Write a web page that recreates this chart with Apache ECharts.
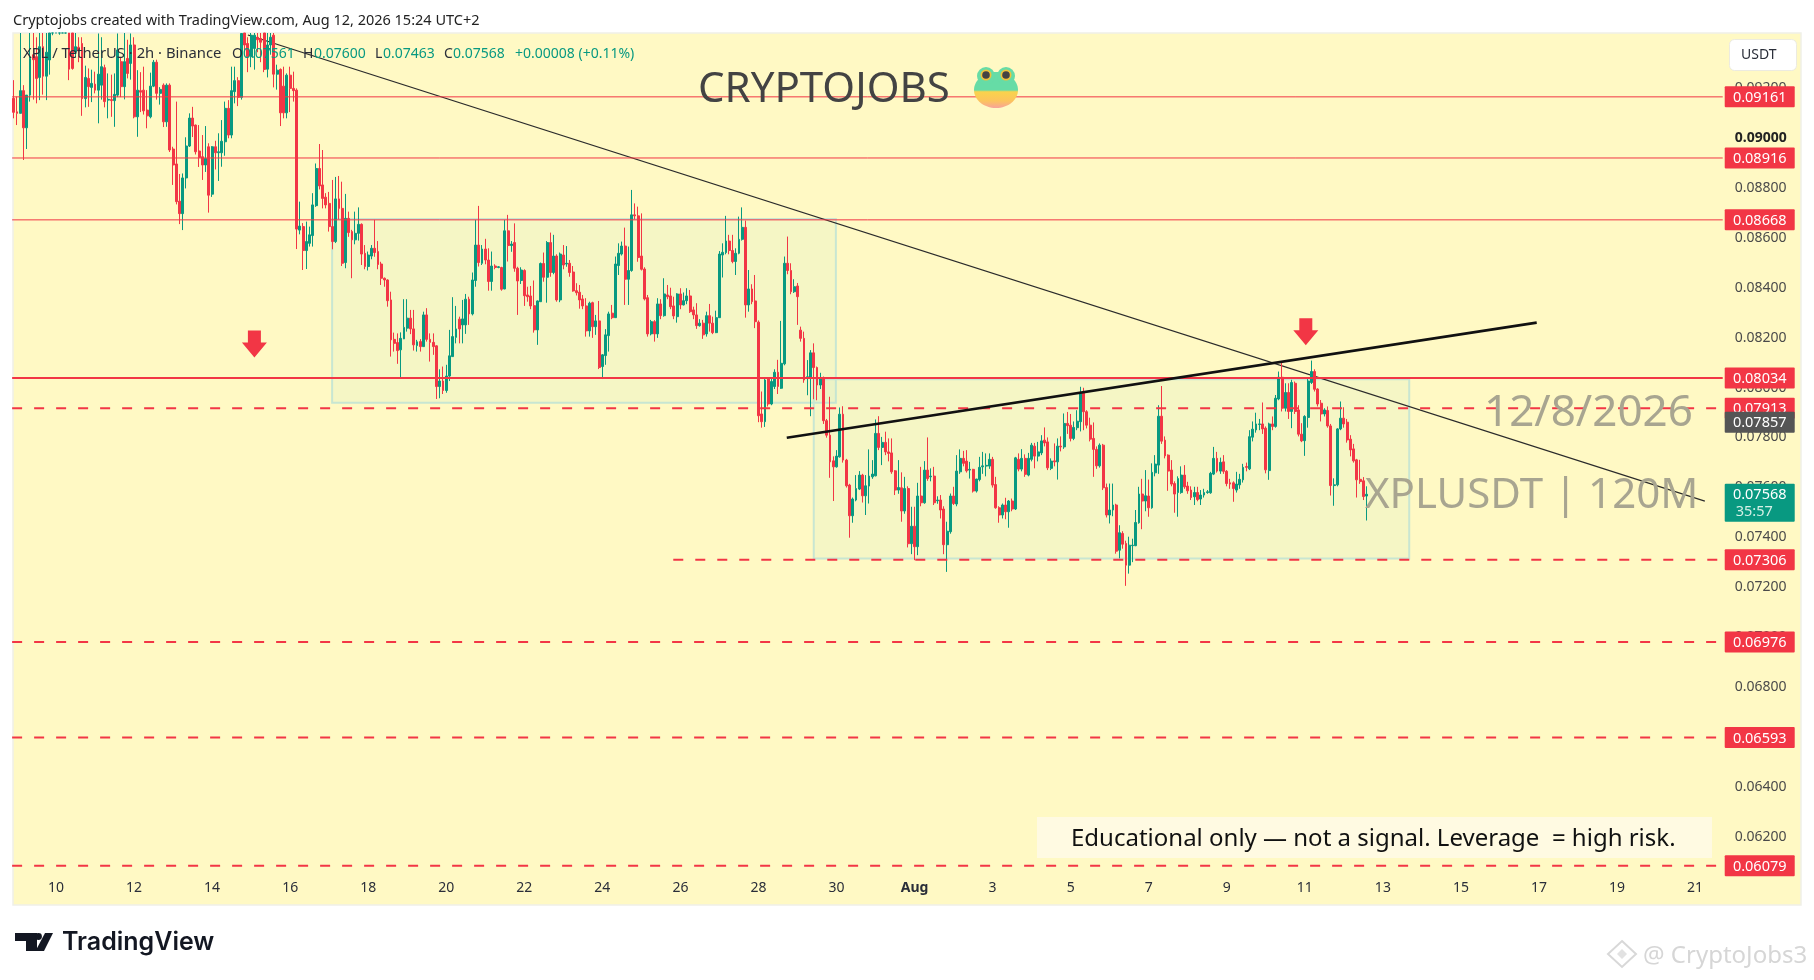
<!DOCTYPE html>
<html><head><meta charset="utf-8">
<style>html,body{margin:0;padding:0;background:#fff}#c{width:1814px;height:980px}</style>
<script src="https://cdn.jsdelivr.net/npm/echarts@6/dist/echarts.min.js"></script>
</head><body><div id="c"></div>
<script>
// 2h bars, [open, close, low, high] in 1e-5 USDT
const barsA=[[9155,9099,9075,9228],[9101,9095,9048,9162],[9095,9186,9095,9440],[9186,9037,8908,9208],[9037,9168,8952,9168],[9168,9315,9142,9420],[9330,9310,9150,9430],[9322,9235,9135,9400],[9239,9362,9148,9430],[9362,9244,9170,9440],[9244,9340,9148,9430],[9309,9420,9250,9450],[9425,9450,9408,9470],[9450,9470,9420,9500],[9470,9440,9410,9500],[9440,9470,9420,9490],[9470,9440,9415,9500],[9440,9272,9228,9480],[9420,9275,9270,9450],[9340,9362,9320,9420],[9360,9345,9300,9400],[9375,9154,9085,9400],[9154,9239,9119,9286],[9235,9202,9121,9275],[9199,9215,9140,9270],[9212,9188,9175,9262],[9188,9252,9055,9415],[9208,9282,9150,9400],[9278,9142,9119,9290],[9148,9151,9075,9255],[9150,9146,9081,9250],[9146,9171,9041,9255],[9168,9349,9160,9415],[9302,9202,9160,9320],[9202,9302,9151,9420],[9315,9255,9235,9390],[9295,9369,9230,9415],[9369,9081,9075,9400],[9081,9188,9001,9268],[9186,9180,9100,9260],[9188,9105,9090,9282],[9108,9085,9035,9188],[9081,9204,9075,9258],[9204,9300,9200,9309],[9300,9175,9150,9310],[9175,9191,9130,9200],[9208,9061,9040,9215],[9061,9208,9041,9215],[9208,8948,8940,9215],[8952,8888,8808,8961],[8892,8741,8730,9142],[8743,8693,8651,8852],[8693,8836,8627,8854],[8836,8964,8794,8999],[8964,9076,8960,9095],[9076,9044,9000,9121],[9048,8941,8930,9050],[8944,8918,8880,9048],[8921,8888,8828,9008],[8888,8914,8860,9044],[8961,8767,8697,8975],[8771,8961,8760,8964],[8961,8937,8870,8985],[8937,8941,8824,9015],[8937,8983,8881,9068],[8981,9115,8925,9142],[9115,9008,8995,9148],[9008,9186,8995,9282],[9182,9226,9135,9282],[9226,9159,9124,9240],[9159,9415,9150,9460],[9425,9369,9340,9460],[9375,9322,9260,9400],[9322,9408,9280,9440],[9355,9408,9270,9430],[9400,9390,9340,9425],[9395,9380,9300,9430],[9430,9271,9260,9450],[9272,9369,9239,9430],[9369,9400,9330,9440],[9408,9252,9199,9440],[9252,9268,9190,9290],[9271,9097,9044,9275],[9204,9097,9075,9282],[9097,9248,9075,9255],[9248,9195,9100,9282],[9195,9186,9142,9262],[9188,8631,8551,9195]];
const barsB=[[8627,8643,8610,8741],[8641,8545,8467,8655],[8545,8581,8471,8661],[8574,8608,8561,8641],[8605,8728,8561,8775],[8725,8874,8720,8894],[8874,8804,8790,8972],[8808,8754,8714,8948],[8759,8728,8714,8775],[8734,8641,8621,8780],[8641,8581,8550,8828],[8581,8752,8575,8840],[8752,8714,8670,8844],[8714,8494,8483,8821],[8497,8674,8474,8772],[8674,8617,8600,8701],[8621,8588,8434,8628],[8588,8614,8570,8701],[8614,8650,8585,8718],[8650,8531,8487,8654],[8534,8481,8470,8567],[8481,8527,8465,8541],[8523,8554,8510,8567],[8554,8537,8520,8668],[8541,8489,8470,8583],[8491,8434,8407,8500],[8434,8427,8400,8437],[8427,8344,8320,8430],[8347,8187,8120,8380],[8189,8173,8140,8216],[8176,8144,8091,8213],[8147,8193,8037,8217],[8191,8237,8190,8350],[8234,8274,8220,8350],[8274,8231,8210,8307],[8231,8167,8144,8307],[8164,8179,8140,8187],[8180,8160,8140,8190],[8160,8287,8160,8300],[8287,8189,8180,8314],[8189,8177,8100,8213],[8177,8160,8127,8213],[8163,8000,7950,8165],[8000,8022,7953,8069],[8022,7984,7970,8080],[7984,8042,7975,8087],[8042,8123,8022,8227],[8120,8200,8120,8358],[8197,8231,8173,8323],[8270,8231,8173,8280],[8247,8271,8173,8347],[8247,8350,8211,8371],[8350,8291,8247,8360],[8291,8427,8285,8457],[8425,8567,8400,8668],[8567,8497,8481,8724],[8494,8551,8487,8567],[8551,8507,8490,8592],[8507,8421,8384,8554],[8421,8483,8384,8541]];
const barsC=[[8483,8477,8470,8490],[8477,8480,8474,8483],[8477,8390,8384,8480],[8391,8624,8390,8668],[8624,8565,8501,8688],[8565,8571,8540,8583],[8577,8474,8460,8654],[8474,8423,8287,8480],[8425,8467,8411,8478],[8465,8364,8323,8470],[8367,8360,8340,8400],[8363,8323,8310,8403],[8324,8227,8216,8425],[8227,8343,8167,8345],[8340,8493,8340,8497],[8493,8438,8420,8537],[8438,8577,8336,8583],[8577,8457,8440,8617],[8457,8523,8450,8608],[8523,8347,8340,8530],[8347,8531,8338,8537],[8527,8487,8470,8567],[8491,8494,8480,8563],[8494,8457,8440,8507],[8459,8383,8380,8483],[8384,8376,8365,8414],[8378,8347,8312,8407],[8351,8323,8310,8367],[8323,8223,8200,8354],[8223,8334,8200,8340],[8336,8240,8195,8340],[8240,8263,8207,8287],[8263,8076,8070,8343],[8080,8127,8030,8130],[8124,8207,8087,8230],[8204,8291,8140,8300],[8294,8276,8270,8327],[8276,8491,8276,8521],[8485,8534,8447,8574],[8531,8563,8525,8581],[8563,8430,8327,8637],[8430,8465,8327,8561],[8465,8688,8460,8788],[8688,8684,8670,8734],[8684,8517,8500,8721],[8523,8470,8465,8694],[8471,8351,8345,8478],[8356,8211,8200,8367],[8211,8260,8205,8267],[8260,8211,8180,8266],[8211,8331,8195,8354],[8331,8284,8270,8350],[8284,8371,8280,8434],[8367,8360,8350,8407],[8363,8320,8310,8396],[8323,8283,8270,8360],[8280,8371,8256,8374],[8371,8327,8310,8394],[8327,8344,8325,8377],[8344,8363,8330,8394],[8363,8300,8295,8387],[8307,8287,8270,8320],[8287,8244,8231,8334],[8244,8254,8240,8270],[8254,8207,8191,8267],[8211,8284,8200,8300],[8284,8254,8220,8331],[8254,8216,8210,8280],[8216,8276,8214,8304],[8276,8531,8276,8543],[8527,8538,8437,8574],[8537,8583,8530,8684],[8583,8545,8530,8608],[8545,8501,8494,8608],[8501,8534,8447,8554],[8534,8590,8530,8681],[8590,8638,8585,8718],[8638,8327,8276,8665],[8327,8391,8300,8467],[8391,8340,8330,8410],[8343,8260,8234,8447]];
const barsD=[[8258,7883,7857,8265],[7890,7859,7835,7980],[7859,8026,7838,8030],[8030,7930,7920,8037],[7930,8020,7925,8030],[8000,8057,7990,8069],[8057,8000,7970,8107],[7993,8093,7990,8263],[8091,8494,8085,8521],[8494,8465,8450,8601],[8465,8380,8370,8494],[8380,8400,8375,8430],[8403,8360,8247,8415],[8226,8193,8180,8240],[8193,8026,8015,8220],[8032,8039,7965,8106],[8032,8135,7881,8146],[8135,8076,7949,8173],[8076,8006,7945,8080],[8006,8035,7990,8055],[8032,7863,7850,8040],[7863,7805,7795,7870],[7805,7698,7634,7959],[7702,7678,7541,7720],[7678,7721,7675,7745],[7718,7889,7715,7916],[7889,7705,7695,7921],[7705,7602,7595,7710],[7605,7482,7394,7610],[7482,7549,7454,7555],[7545,7591,7540,7645],[7589,7645,7585,7661],[7645,7562,7535,7650],[7562,7602,7485,7645],[7601,7641,7531,7748],[7638,7649,7630,7705],[7642,7812,7640,7868],[7812,7756,7745,7881],[7756,7776,7685,7798],[7776,7738,7725,7819],[7738,7732,7700,7792],[7734,7658,7650,7792],[7662,7585,7565,7665],[7585,7595,7570,7705],[7594,7501,7458,7656],[7501,7591,7490,7638],[7591,7370,7355,7600],[7370,7440,7328,7518],[7440,7358,7304,7518]];
const barsE=[[7358,7561,7324,7614],[7561,7534,7520,7678],[7534,7665,7530,7701],[7665,7631,7622,7796],[7638,7641,7620,7672],[7641,7534,7525,7678],[7542,7545,7530,7560],[7545,7505,7471,7565],[7509,7366,7328,7520],[7366,7420,7257,7458],[7418,7561,7410,7571],[7561,7531,7525,7598],[7529,7661,7520,7725],[7658,7712,7650,7748],[7712,7692,7680,7742],[7701,7662,7655,7745],[7665,7668,7631,7698],[7668,7581,7575,7670],[7581,7629,7575,7630],[7627,7676,7620,7718],[7678,7682,7650,7738],[7681,7684,7640,7732],[7681,7708,7670,7732],[7708,7605,7595,7718],[7607,7514,7510,7638],[7514,7485,7454,7520],[7485,7525,7471,7531],[7525,7498,7468,7554],[7498,7541,7434,7545],[7541,7509,7500,7551],[7509,7714,7505,7718],[7708,7669,7660,7732],[7669,7712,7660,7749],[7712,7648,7638,7728],[7645,7712,7640,7734],[7708,7765,7700,7774],[7761,7721,7672,7774],[7721,7738,7700,7778],[7734,7782,7725,7805],[7785,7774,7760,7836],[7778,7674,7665,7796],[7672,7701,7665,7712],[7702,7698,7680,7772],[7698,7761,7627,7792],[7761,7758,7740,7800],[7758,7852,7750,7892],[7852,7843,7810,7898],[7845,7792,7780,7890],[7792,7836,7785,7860],[7835,7861,7825,7905],[7859,7976,7820,7999],[7976,7899,7825,7995],[7899,7845,7832,7905],[7845,7789,7780,7875],[7792,7748,7638,7856],[7748,7682,7670,7760],[7682,7765,7675,7772],[7765,7594,7585,7770],[7595,7485,7475,7611],[7485,7505,7451,7611],[7505,7525,7480,7611],[7525,7340,7330,7530],[7344,7414,7311,7444],[7411,7368,7350,7420],[7371,7284,7201,7382],[7284,7364,7250,7398],[7362,7364,7296,7390],[7362,7455,7360,7505],[7454,7569,7450,7598],[7569,7541,7428,7630],[7541,7562,7500,7665],[7561,7514,7478,7627],[7514,7656,7510,7692],[7654,7689,7640,7725],[7685,7881,7650,7925],[7881,7781,7770,8002],[7785,7722,7712,7800],[7725,7661,7582,7728],[7665,7609,7600,7705],[7611,7569,7494,7620],[7575,7631,7478,7640],[7575,7645,7570,7680],[7645,7598,7590,7685],[7601,7582,7570,7618],[7585,7555,7545,7600],[7558,7575,7525,7598],[7575,7547,7540,7598],[7549,7565,7525,7585],[7565,7575,7555,7590],[7575,7578,7570,7585],[7574,7652,7570,7658],[7649,7712,7645,7758],[7712,7661,7655,7738],[7661,7696,7650,7715],[7698,7660,7650,7725],[7660,7611,7600,7665],[7614,7609,7590,7630],[7614,7591,7538,7620],[7585,7609,7575,7658]];
const barsF=[[7606,7628,7590,7650],[7626,7676,7615,7690],[7679,7676,7660,7695],[7670,7799,7665,7825],[7797,7829,7780,7860],[7826,7850,7815,7895],[7848,7850,7825,7870],[7850,7830,7810,7936],[7833,7666,7652,7840],[7663,7850,7626,7855],[7850,7840,7825,7880],[7840,7953,7835,7966],[7950,8037,7945,8060],[8037,7913,7900,8100],[7913,7976,7900,8013],[7976,7900,7870,8013],[7900,8016,7833,8027],[8013,7900,7890,8020],[7906,7809,7800,7925],[7809,7782,7777,7853],[7783,7880,7722,7885],[7876,8022,7835,8037],[8016,8060,8010,8104],[8060,7989,7980,8069],[7990,7930,7920,7993],[7933,7890,7860,7946],[7890,7906,7880,7913],[7904,7842,7835,7920],[7842,7603,7563,7850],[7603,7606,7522,7632],[7606,7830,7600,7833],[7830,7873,7825,7940],[7873,7850,7835,7917],[7857,7786,7775,7870],[7789,7746,7720,7805],[7750,7702,7695,7770],[7706,7626,7555,7710],[7628,7619,7610,7706],[7622,7559,7545,7637],[7561,7568,7463,7600]];
const SCALE=100000;
const BAR_COUNT=526;               // bars + empty room on the right
const FIRST_TICK=13, TICK_STEP=24; // first labelled bar, bars per label
const tickLabels=['10','12','14','16','18','20','22','24','26','28','30','Aug','3','5','7','9','11','13','15','17','19','21'];
const priceTicks=[0.062,0.064,0.066,0.068,0.07,0.072,0.074,0.076,0.078,0.08,0.082,0.084,0.086,0.088,0.09,0.092];
const levelSolid=[0.09161,0.08916,0.08668];
const levelThick=[0.08034];
const levelDashed=[[-0.5,0.07913],[202.8,0.07306],[-0.5,0.06976],[-0.5,0.06593],[-0.5,0.06079]];
const levelTags=[0.09161,0.08916,0.08668,0.08034,0.07913,0.07306,0.06976,0.06593,0.06079];
const closeTag=0.07857, lastPrice=0.07568, countdown='35:57';
const boxes=[[97.9,0.08671,252.8,0.07935],[246,0.08029,429.1,0.07311]];
const trendDown=[[72,0.09409],[520,0.07541]];
const trendUp=[[237.7,0.07795],[468.3,0.08256]];
const arrows=[[74,0.0817],[397.3,0.0822]];
const yTop=0.09417, yBottom=0.06034;

const RED='#f23645', GREEN='#089981', FONT='"Noto Sans",sans-serif';
// the pane cuts the candles off at its top edge
const bars=[].concat(barsA,barsB,barsC,barsD,barsE,barsF).map(r=>r.map(v=>Math.min(v/SCALE,yTop)));
const categories=Array.from({length:BAR_COUNT},(_,i)=>{const k=i-FIRST_TICK;return k>=0&&k%TICK_STEP===0?(tickLabels[k/TICK_STEP]||''):'';});
const lineSeries=(pts,color,width,type,z)=>({type:'line',xAxisIndex:1,yAxisIndex:0,data:pts,showSymbol:false,symbol:'none',silent:true,z:z||5,clip:true,lineStyle:{color,width,type:type||'solid',cap:'butt'},animation:false});
const gridRight=BAR_COUNT-0.5;

const txt=(x,y,text,size,fill,extra)=>Object.assign({type:'text',z:100,x,y,silent:true,style:Object.assign({text,font:`${size}px ${FONT}`,fill,verticalAlign:'middle',align:'left'},extra||{})});
const g=[
 {type:'rect',z:-5,shape:{x:13,y:33,width:1788,height:872},style:{fill:'#fff9c4',stroke:'#f0f0e8',lineWidth:1.5},silent:true},
 {type:'rect',z:90,shape:{x:1037,y:817,width:675,height:41},style:{fill:'#fffae2'},silent:true},
 {type:'rect',z:90,shape:{x:1729.5,y:39.5,width:67,height:31,r:5},style:{fill:'#ffffff',stroke:'#ecebe0'},silent:true},
 txt(13,21,'Cryptojobs created with TradingView.com, Aug 12, 2026 15:24 UTC+2',14.5,'#222'),
 txt(23,54,'XPL / TetherUS · 2h · Binance',14.8,'#2a2e39'),
 txt(232,54,'O',14,'#2a2e39'),txt(243,54,'0.07561',14,GREEN),
 txt(303,54,'H',14,'#2a2e39'),txt(314,54,'0.07600',14,GREEN),
 txt(375,54,'L',14,'#2a2e39'),txt(383,54,'0.07463',14,GREEN),
 txt(444,54,'C',14,'#2a2e39'),txt(453,54,'0.07568',14,GREEN),
 txt(515,54,'+0.00008 (+0.11%)',14,GREEN),
 txt(698,90,'CRYPTOJOBS',42,'#434343'),
 txt(1484,413,'12/8/2026',44,'#a8a590'),
 txt(1365,496,'XPLUSDT | 120M',42,'#a8a590'),
 txt(1071,839,'Educational only — not a signal. Leverage  = high risk.',24,'#111'),
 txt(1741,55,'USDT',14,'#2a2e39'),
 // frog
 {type:'circle',z:99,shape:{cx:986,cy:76,r:9},style:{fill:'#66dca6'},silent:true},
 {type:'circle',z:99,shape:{cx:1006,cy:76,r:9},style:{fill:'#66dca6'},silent:true},
 {type:'ellipse',z:98,shape:{cx:996,cy:90,rx:22,ry:18},style:{fill:{type:'linear',x:0,y:0,x2:0,y2:1,colorStops:[{offset:0,color:'#66dca6'},{offset:.5,color:'#66dca6'},{offset:.55,color:'#f9d34c'},{offset:.8,color:'#fcc45c'},{offset:1,color:'#f8a39a'}]}},silent:true},
 {type:'circle',z:100,shape:{cx:986,cy:75,r:5.5},style:{fill:'#f0c33c'},silent:true},
 {type:'circle',z:100,shape:{cx:1006,cy:75,r:5.5},style:{fill:'#f0c33c'},silent:true},
 {type:'circle',z:101,shape:{cx:986,cy:75,r:3.8},style:{fill:'#444'},silent:true},
 {type:'circle',z:101,shape:{cx:1006,cy:75,r:3.8},style:{fill:'#444'},silent:true},
 // TradingView logo
 {type:'polygon',z:100,silent:true,shape:{points:[[15,933],[37,933],[37,951],[26,951],[26,941],[15,941]]},style:{fill:'#131722'}},
 {type:'circle',z:100,shape:{cx:38.5,cy:936.5,r:3.4},style:{fill:'#131722'},silent:true},
 {type:'polygon',z:100,shape:{points:[[45,933],[53,933],[44,951],[35.5,951]]},style:{fill:'#131722'},silent:true},
 {type:'text',z:100,x:62,y:942,silent:true,style:{text:'TradingView',font:'600 25px Inter,sans-serif',fill:'#131722',verticalAlign:'middle'}},
 // watermark
 {type:'polygon',z:100,shape:{points:[[1622,941],[1636,954],[1622,967],[1608,954]]},style:{fill:'none',stroke:'#d8d8d8',lineWidth:2},silent:true},
 {type:'polygon',z:100,shape:{points:[[1622,949],[1627,954],[1622,959],[1617,954]]},style:{fill:'#e2e2e2'},silent:true},
 txt(1643,956,'@ CryptoJobs3',24,'#d6d6d6')
];

const chart=echarts.init(document.getElementById('c'),null,{renderer:'canvas',width:1814,height:980});
chart.setOption({
 animation:false,backgroundColor:'#ffffff',
 graphic:{elements:g},
 grid:{left:12.12,top:33,width:1710.6,height:844,containLabel:false,show:false},
 xAxis:[
  {type:'category',data:categories,boundaryGap:true,axisLine:{show:false},axisTick:{show:false},splitLine:{show:false},
   axisLabel:{interval:0,margin:4,fontFamily:FONT,fontSize:14,color:'#2a2e39',hideOverlap:false,
    formatter:v=>v==='Aug'?'{b|Aug}':v,rich:{b:{fontWeight:'bold',fontFamily:FONT,fontSize:14,color:'#2a2e39'}}}},
  {type:'value',show:false,min:-0.5,max:gridRight,splitLine:{show:false},axisLabel:{show:false}}
 ],
 yAxis:{type:'value',position:'right',min:yBottom,max:yTop,scale:true,splitLine:{show:false},axisLine:{show:false},axisTick:{show:false},
  axisLabel:{customValues:priceTicks,showMinLabel:true,showMaxLabel:true,margin:12,fontFamily:FONT,fontSize:14,color:'#4a4a4a',lineHeight:16,padding:[2,0,0,0],
   formatter:v=>{const s=v.toFixed(5);return s==='0.09000'?'{b|'+s+'}':s;},rich:{b:{fontWeight:'bold',fontFamily:FONT,fontSize:14,color:'#222'}}}},
 series:[
  {type:'custom',xAxisIndex:1,yAxisIndex:0,z:1,silent:true,clip:true,data:boxes,
   renderItem:(p,api)=>{const a=api.coord([api.value(0),api.value(1)]),b=api.coord([api.value(2),api.value(3)]);
    return {type:'rect',shape:{x:a[0],y:a[1],width:b[0]-a[0],height:b[1]-a[1]},style:{fill:'rgba(187,230,205,0.15)',stroke:'#c8e6d2',lineWidth:2}};}},
  lineSeries(trendDown,'#2b2b2b',1.3,'solid',2),
  {type:'candlestick',xAxisIndex:0,yAxisIndex:0,z:3,data:bars,barWidth:2.4,clip:true,large:false,silent:true,
   itemStyle:{color:GREEN,color0:RED,borderColor:GREEN,borderColor0:RED,borderWidth:1}},
  ...levelSolid.map(p=>lineSeries([[-0.5,p],[gridRight,p]],RED,1)),
  ...levelThick.map(p=>lineSeries([[-0.5,p],[gridRight,p]],RED,2)),
  ...levelDashed.map(d=>lineSeries([[d[0],d[1]],[gridRight,d[1]]],RED,2,[10,12])),
  lineSeries(trendUp,'#111111',2.6,'solid',6),
  {type:'scatter',xAxisIndex:1,yAxisIndex:0,z:7,silent:true,data:arrows,symbol:'path://M6 0H19V12H25L12.5 27L0 12H6Z',symbolSize:[25,27],itemStyle:{color:RED,opacity:1}},
  {type:'custom',xAxisIndex:1,yAxisIndex:0,z:50,silent:true,clip:false,data:levelTags.map(p=>[0,p]),
   renderItem:(p,api)=>{const y=api.coord([0,api.value(1)])[1],x=p.coordSys.x+p.coordSys.width+2;
    return {type:'group',children:[{type:'rect',shape:{x,y:y-10.5,width:70,height:21,r:1},style:{fill:RED}},
     {type:'text',style:{x:x+35,y:y+1,text:api.value(1).toFixed(5),fill:'#fff',font:`14.5px ${FONT}`,align:'center',verticalAlign:'middle'}}]};}},
  {type:'custom',xAxisIndex:1,yAxisIndex:0,z:51,silent:true,clip:false,data:[[0,closeTag]],
   renderItem:(p,api)=>{const y=api.coord([0,api.value(1)])[1],x=p.coordSys.x+p.coordSys.width+2;
    return {type:'group',children:[{type:'rect',shape:{x,y:y-10.5,width:70,height:21,r:1},style:{fill:'#555555'}},
     {type:'text',style:{x:x+35,y:y+1,text:api.value(1).toFixed(5),fill:'#fff',font:`14.5px ${FONT}`,align:'center',verticalAlign:'middle'}}]};}},
  {type:'custom',xAxisIndex:1,yAxisIndex:0,z:52,silent:true,clip:false,data:[[0,lastPrice]],
   renderItem:(p,api)=>{const y=api.coord([0,api.value(1)])[1],x=p.coordSys.x+p.coordSys.width+2;
    return {type:'group',children:[{type:'rect',shape:{x,y:y-10.5,width:70,height:38,r:1},style:{fill:GREEN}},
     {type:'text',style:{x:x+35,y:y+1,text:api.value(1).toFixed(5),fill:'#fff',font:`14.5px ${FONT}`,align:'center',verticalAlign:'middle'}},
     {type:'text',style:{x:x+11,y:y+18,text:countdown,fill:'#d5f0e6',font:`14.5px ${FONT}`,align:'left',verticalAlign:'middle'}}]};}}
 ]
});
</script></body></html>
